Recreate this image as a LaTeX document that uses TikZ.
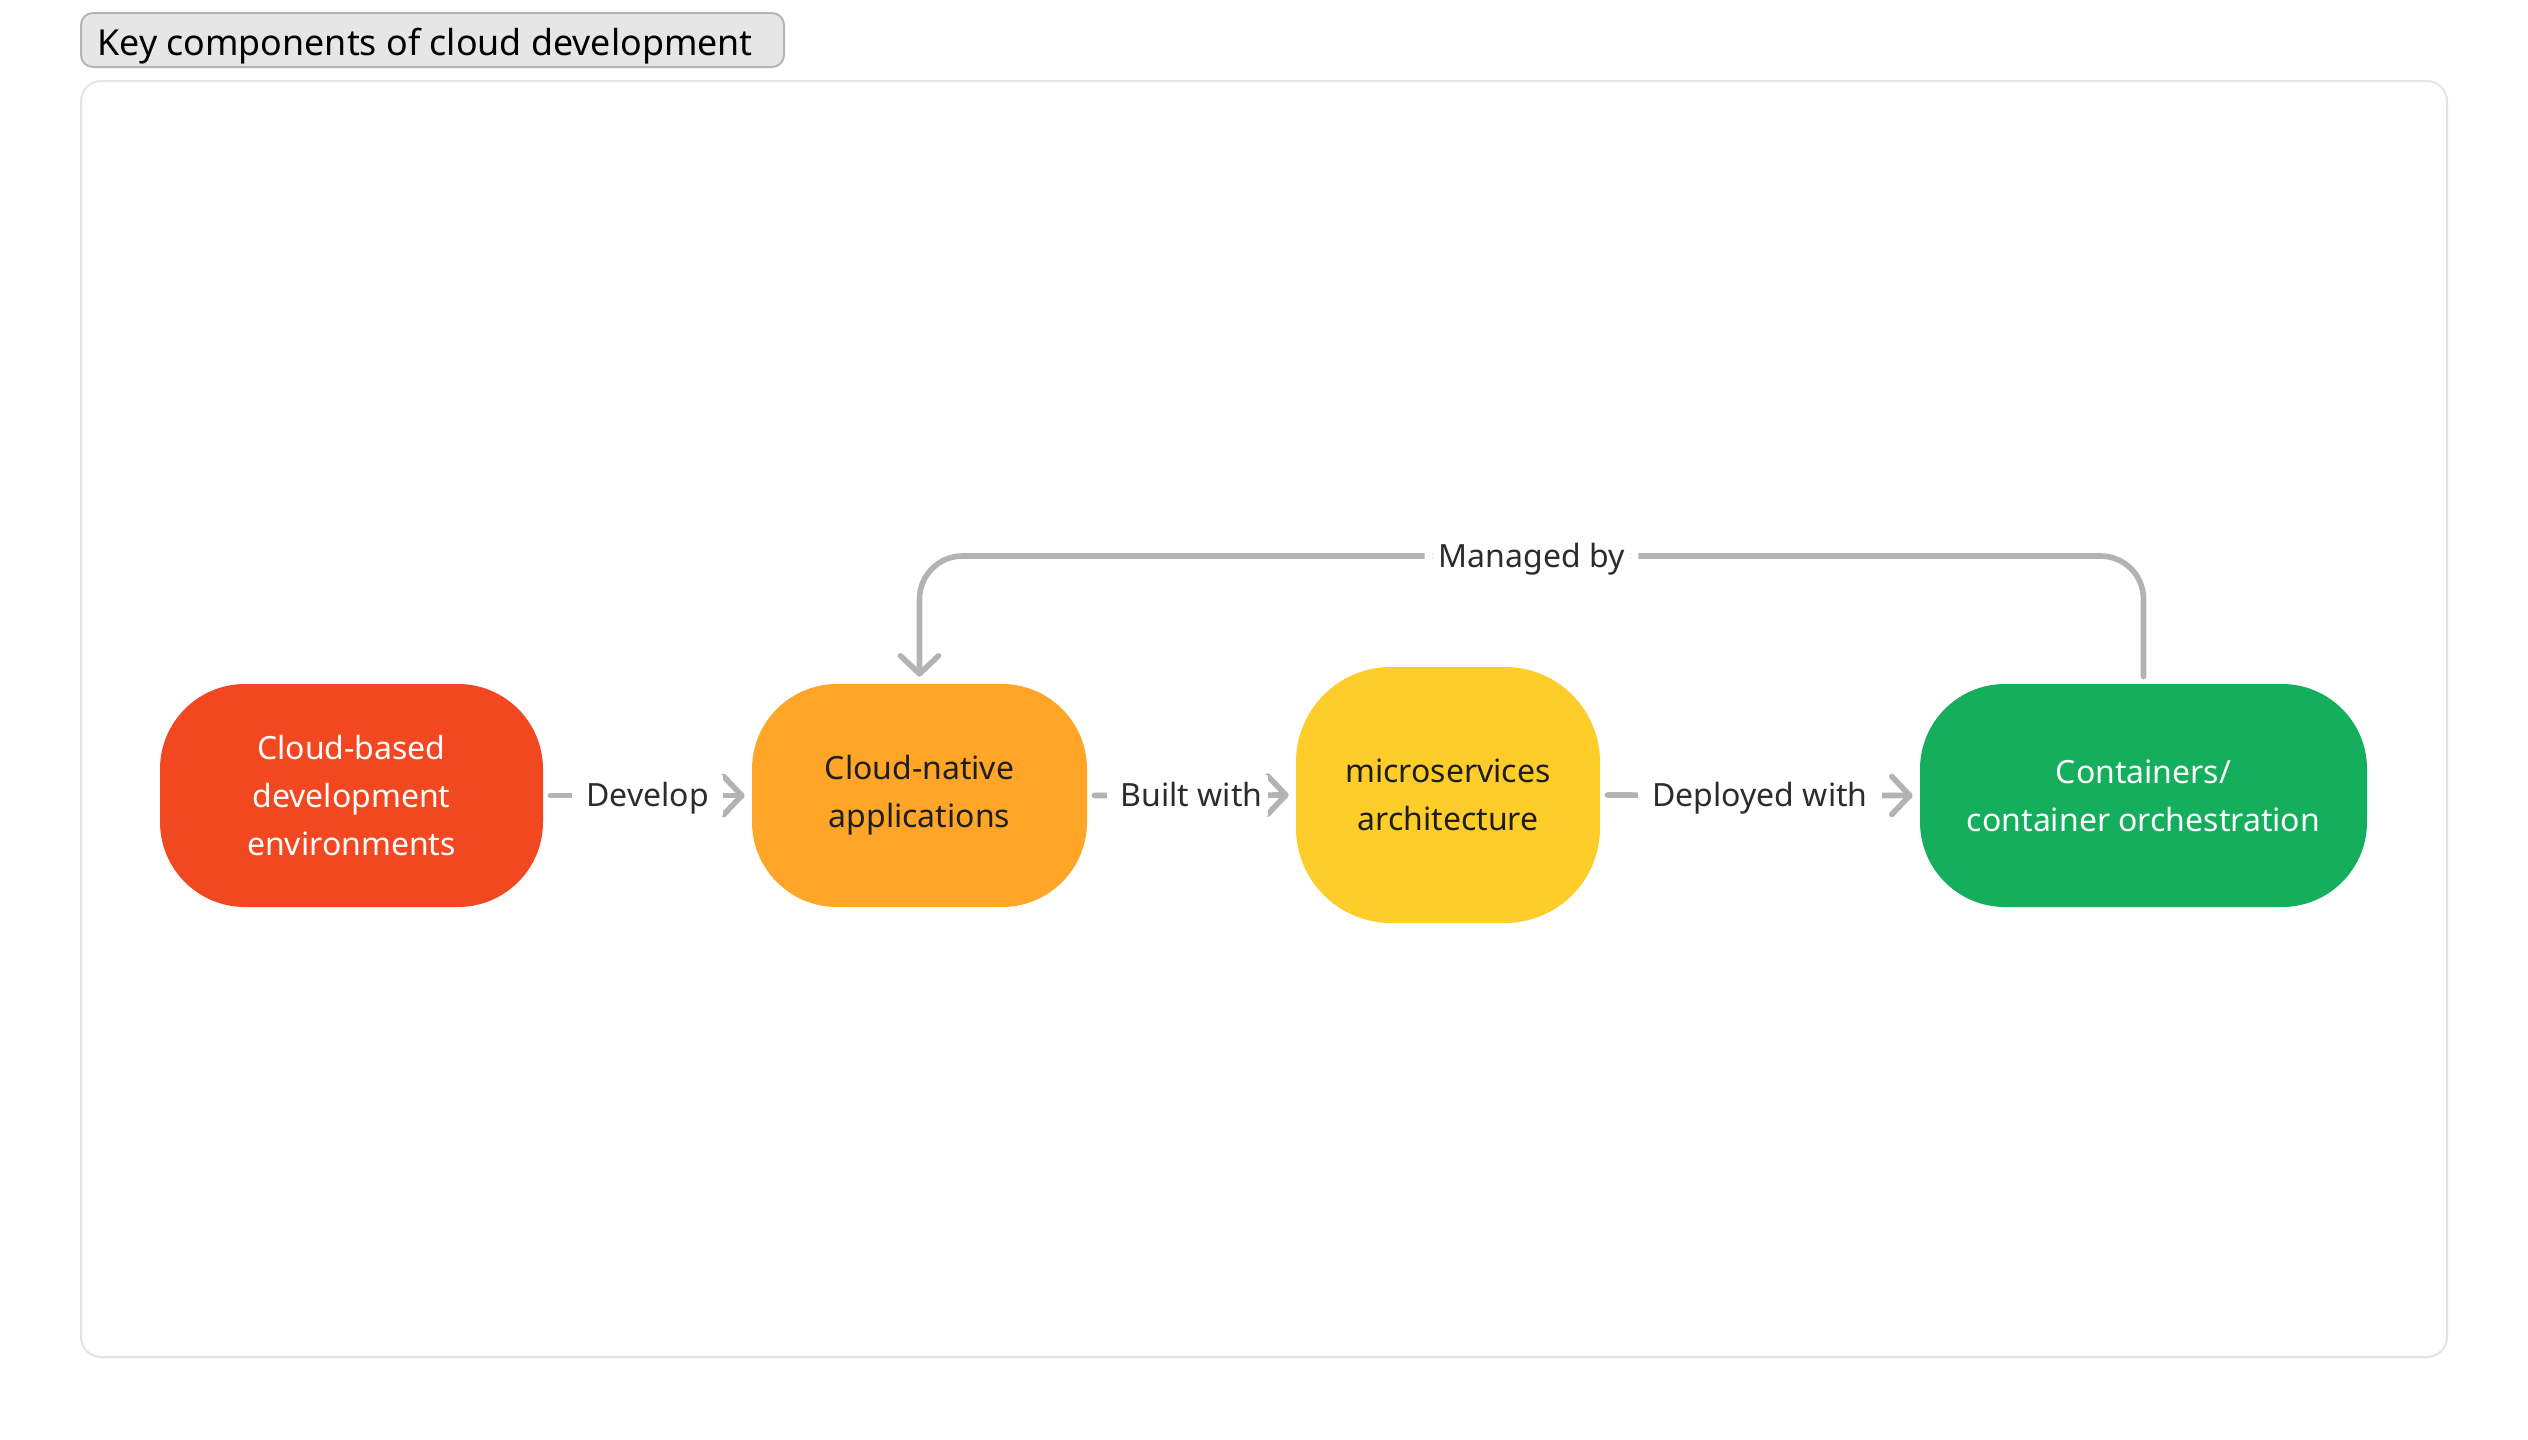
\documentclass[tikz,border=0pt]{standalone}
\usepackage{fontspec}
\setmainfont{Noto Sans}
\usetikzlibrary{arrows.meta}
\definecolor{cred}{HTML}{F24822}
\definecolor{corange}{HTML}{FFA629}
\definecolor{cyellow}{HTML}{FFCD29}
\definecolor{cgreen}{HTML}{14AE5C}
\definecolor{cline}{HTML}{B3B3B3}
\definecolor{ctext}{HTML}{1E1E1E}
\definecolor{clabel}{HTML}{2C2C2C}
\definecolor{cframe}{HTML}{E3E3E3}
\definecolor{ctitlefill}{HTML}{E6E6E6}
\definecolor{ctitledraw}{HTML}{B5B5B5}
\tikzset{
  box/.style={draw=none, align=center, inner sep=0pt,
    font=\fontsize{16}{24}\selectfont, rounded corners=42.5pt},
  conn/.style={draw=cline, line width=2.8pt, line cap=round, line join=round,
    -{Straight Barb[length=9pt,width=19pt,round]}},
  lbl/.style={fill=white, draw=white, line width=1pt, text=clabel, inner xsep=6.5pt, inner ysep=4pt,
    text height=11.4pt, text depth=0pt,
    font=\fontsize{16}{19}\selectfont, midway}
}
\begin{document}
\begin{tikzpicture}[x=0.5pt,y=-0.5pt]
\useasboundingbox (0,0) rectangle (2528,1440);
\fill[white] (0,0) rectangle (2528,1440);
% frame
\draw[cframe, line width=1pt, rounded corners=10pt] (81,81) rectangle (2447,1357);
% title
\draw[ctitledraw, fill=ctitlefill, line width=1pt, rounded corners=6pt] (81,13) rectangle (784,67);
\node[anchor=west, inner sep=0pt, text height=12.6pt, text depth=0pt, font=\fontsize{17.9}{20}\selectfont, text=black] (title) at (97,43) {Key components of cloud development};
% nodes
\node[box, fill=cred, text=white, minimum width=191.5pt, minimum height=111.5pt] (red) at (351.5,795.5)
  {Cloud-based\\development\\environments};
\node[box, fill=corange, text=ctext, minimum width=167.5pt, minimum height=111.5pt] (orange) at (919.5,795.5)
  {Cloud-native\\applications};
\node[box, fill=cyellow, text=ctext, minimum width=152pt, minimum height=128pt, rounded corners=47.5pt] (yellow) at (1448,795)
  {microservices\\architecture};
\node[box, fill=cgreen, text=white, minimum width=223.5pt, minimum height=111.5pt] (green) at (2143.5,795.5)
  {Containers/\\container orchestration};
% connectors
\draw[conn] ([xshift=3.5pt]red.east) -- node[lbl] (l1) {Develop} ([xshift=-3.5pt]orange.west);
\draw[conn] ([xshift=3.5pt]orange.east) -- node[lbl, inner xsep=2.5pt, xshift=-2pt] (l2) {\hspace{4pt}Built with} ([xshift=-3.5pt]yellow.west);
\draw[conn] ([xshift=3.5pt]yellow.east) -- node[lbl] (l3) {Deployed with} ([xshift=-3.5pt]green.west);
\coordinate (mR) at (2143.5,556);
\coordinate (mL) at (919.5,556);
\draw[conn, rounded corners=21.5pt] ([yshift=3.5pt]green.north) -- (mR) -- node[lbl] (l4) {Managed by} (mL) -- ([yshift=3.5pt]orange.north);
\end{tikzpicture}
\end{document}
